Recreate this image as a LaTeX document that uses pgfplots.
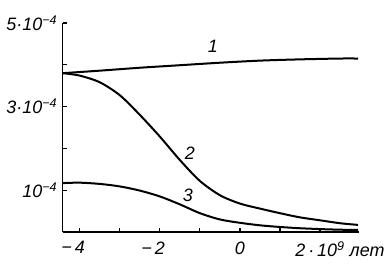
\documentclass[border=0pt]{standalone}
\usepackage{fontspec}
\setmainfont{Liberation Sans}
\usepackage{pgfplots}
\pgfplotsset{compat=1.18}
\begin{document}
\begin{tikzpicture}
\path[use as bounding box] (-62.7bp,-38bp) rectangle (326.3bp,232bp);
\begin{axis}[
  at={(0bp,0bp)}, anchor=south west,
  scale only axis, width=296.3bp, height=209bp,
  xmin=-4.43, xmax=2.975, ymin=0, ymax=5e-4,
  axis lines=left, axis line style={-, line width=1.6bp},
  tick align=inside, major tick length=4bp,
  tick style={line width=1.1bp, black},
  xtick={-4,-3,-2,-1,0,1,2},
  xticklabels={\llap{−\,}4,,\llap{−\,}2,,0,,{2\,·\,10\textsuperscript{9}\rlap{ лет}}},
  ytick={1e-4,2e-4,3e-4,4e-4,5e-4},
  yticklabels={10\textsuperscript{−4},,3·10\textsuperscript{−4},,5·10\textsuperscript{−4}},
  scaled y ticks=false,
  ticklabel style={font=\fontsize{18}{20}\selectfont\itshape},
  xticklabel style={yshift=-6bp},
  yticklabel style={xshift=-2bp},
  clip=false,
]
\addplot[smooth, line width=2bp, black] coordinates {
  (-4.43,3.80e-4) (-3.5,3.86e-4) (-2.5,3.93e-4) (-1.5,3.99e-4)
  (-0.5,4.05e-4) (0.5,4.10e-4) (1.5,4.13e-4) (2.5,4.15e-4) (2.95,4.15e-4)};
\addplot[smooth, line width=2bp, black] coordinates {
  (-4.43,3.80e-4) (-4,3.74e-4) (-3.5,3.58e-4) (-3,3.27e-4)
  (-2.5,2.80e-4) (-2,2.28e-4) (-1.5,1.72e-4) (-1,1.22e-4)
  (-0.5,0.88e-4) (0,0.68e-4) (0.5,0.56e-4) (1,0.45e-4)
  (1.5,0.35e-4) (2,0.28e-4) (2.5,0.21e-4) (2.95,0.17e-4)};
\addplot[smooth, line width=2bp, black] coordinates {
  (-4.43,1.17e-4) (-4,1.18e-4) (-3.5,1.15e-4) (-3,1.09e-4)
  (-2.5,0.99e-4) (-2,0.85e-4) (-1.5,0.66e-4) (-1,0.45e-4)
  (-0.5,0.30e-4) (0,0.22e-4) (0.5,0.16e-4) (1,0.12e-4)
  (1.5,0.09e-4) (2,0.07e-4) (2.5,0.055e-4) (2.95,0.05e-4)};
\node[font=\fontsize{18}{20}\selectfont\itshape] at (axis cs:-0.675,4.45e-4) {1};
\node[font=\fontsize{18}{20}\selectfont\itshape] at (axis cs:-1.25,1.89e-4) {2};
\node[font=\fontsize{18}{20}\selectfont\itshape] at (axis cs:-1.3,0.885e-4) {3};
\end{axis}
\end{tikzpicture}
\end{document}
